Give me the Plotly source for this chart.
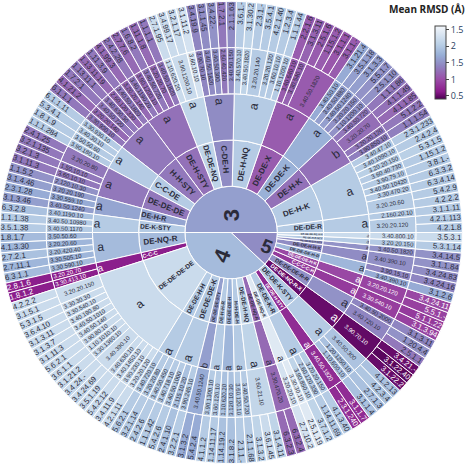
import plotly.graph_objects as go

# level 1 / level 2: metal-site class and residue motif, clockwise from 9 o'clock
motif_class = ["3"] * 14 + ["5"] * 9 + ["4"] * 15
motif_names = [
    "DE-K-STY", "DE-H-R", "DE-DE-DE", "C-C-DE", "H-H-STY", "DE-H-STY", "DE-DE-NQ",
    "C-DE-H", "DE-H-NQ", "DE-DE-X", "DE-DE-K", "DE-H-K", "DE-H-K ", "DE-DE-R",
    "DE-DE-DE-DE-H-H", "DE-DE-H-K-STY", "DE-DE-H-STY-STY", "DE-DE-H-H-K", "DE-DE-DE-H-R",
    "DE-DE-DE-H-K", "C-C-C-C-H", "DE-DE-DE-R-R", "DE-DE-NQ-R-X",
    "DE-DE-K-STY", "DE-DE-H-STY", "DE-DE-K-R", "DE-DE-NQ-K", "DE-DE-NQ-R", "DE-DE-H-NQ",
    "H-H-DE-H", "DE-DE-DE-H", "DE-H-H-R", "DE-DE-DE-STY", "DE-DE-DE-K", "DE-DE-H-H",
    "DE-DE-DE-DE", "C-C-C", "DE-NQ-R",
]
motif_letter = ["a"] * 11 + ["b", "a", "a"] + ["a"] * 9 + ["a"] * 9 + ["b"] + ["a"] * 5
motif_rmsd = [
    2.0, 1.65, 1.3, 2.0, 1.3, 1.25, 2.1, 1.45, 2.0, 1.1, 1.75, 1.25, 2.0, 2.0,
    2.2, 2.0, 1.5, 1.45, 1.8, 0.95, 0.85, 1.5, 0.5,
    2.0, 0.75, 2.0, 2.4, 1.2, 2.1, 2.0, 1.8, 2.0, 1.6, 2.0, 2.0, 2.2, 0.65, 1.85,
]

# level 4 / level 5: CATH topology and EC number of each leaf
leaf_motif = (
    ["DE-K-STY"] * 3 + ["DE-H-R"] * 3 + ["DE-DE-DE"] * 5 + ["C-C-DE"] * 4 + ["H-H-STY"] * 6
    + ["DE-H-STY"] * 6 + ["DE-DE-NQ"] * 4 + ["C-DE-H"] * 5 + ["DE-H-NQ"] * 7 + ["DE-DE-X"] * 6
    + ["DE-DE-K"] * 5 + ["DE-H-K"] * 5 + ["DE-H-K "] * 9 + ["DE-DE-R"] * 3
    + ["DE-DE-DE-DE-H-H"] + ["DE-DE-H-K-STY"] + ["DE-DE-H-STY-STY"] + ["DE-DE-H-H-K"] * 2
    + ["DE-DE-DE-H-R"] * 2 + ["DE-DE-DE-H-K"] * 2 + ["C-C-C-C-H"] * 2 + ["DE-DE-DE-R-R"] * 3
    + ["DE-DE-NQ-R-X"] * 3
    + ["DE-DE-K-STY"] * 4 + ["DE-DE-H-STY"] * 2 + ["DE-DE-K-R"] * 3 + ["DE-DE-NQ-K"] * 2
    + ["DE-DE-NQ-R"] * 2 + ["DE-DE-H-NQ"] * 3 + ["H-H-DE-H"] * 2 + ["DE-DE-DE-H"] * 2
    + ["DE-H-H-R"] * 2 + ["DE-DE-DE-STY"] * 2 + ["DE-DE-DE-K"] * 4 + ["DE-DE-H-H"] * 3
    + ["DE-DE-DE-DE"] * 16 + ["C-C-C"] * 2 + ["DE-NQ-R"] * 5
)
leaf_cath = [
    "3.40.50.1170", "3.40.50.10980", "3.40.1190.10",
    "3.40.50.1240", "3.30.559.10", "3.20.20.190",
    "2.120.10.30", "3.60.10.10", "1.50.10.10", "3.20.20.80", "3.20.20.80",
    "3.90.180.10", "3.50.50.60", "3.40.30.10", "3.30.930.10",
    "3.30.930.10", "3.20.20.140", "3.40.50.720", "3.40.630.30", "2.60.120.330", "3.40.50.1820",
    "3.20.20.140", "3.40.1190.20", "3.90.1200.10", "3.40.50.720", "3.20.20.70", "3.40.50.1820",
    "1.10.620.20", "3.90.1200.10", "3.90.1200.10", "3.60.10.10",
    "3.90.70.10", "3.40.50.1820", "3.40.50.300", "2.60.40.420", "3.40.50.150",
    "3.40.570.10", "3.40.50.1820", "3.20.20.140", "3.20.20.140", "3.20.20.120", "3.60.10.10", "1.10.1200.10",
    "3.40.640.10", "3.30.540.10", "3.40.50.1820", "3.40.50.1820", "3.40.50.1820", "3.40.50.1820",
    "3.40.50.10", "3.40.50.880", "3.40.50.1240", "3.20.20.150", "1.10.1200.10",
    "3.40.50.720", "3.20.20.70", "3.20.20.70", "3.20.20.120", "3.90.850.10",
    "3.40.47.10", "3.40.1090.10", "3.20.20.150", "3.60.40.730", "3.90.79.10", "3.40.50.10420",
    "3.30.470.20", "3.20.20.60", "3.20.20.60",
    "2.160.20.10", "3.20.20.120", "3.20.20.120",
    "3.40.800.10", "3.20.20.150", "3.40.50.1820", "3.40.390.10", "3.40.390.10",
    "3.90.15.10", "3.40.390.10", "3.20.20.120", "3.20.20.120", "3.30.540.10", "3.30.540.10",
    "3.40.50.2000", "3.40.720.10", "3.40.720.10", "3.90.70.10", "3.90.70.10", "3.90.70.10",
    "3.40.50.300", "3.40.50.300", "1.20.1250.10", "1.10.600.10", "3.40.50.1820", "3.40.50.1820",
    "3.20.20.150", "2.60.120.330", "3.90.850.10", "3.30.30.10", "3.20.20.10",
    "3.30.470.20", "3.30.470.20", "3.60.21.10", "3.60.21.10", "3.60.21.10",
    "3.40.50.720", "3.60.120.10", "3.120.10.30", "1.10.620.20",
    "3.60.120.10", "3.90.1300.10", "3.40.50.1240", "3.40.50.1240",
    "3.90.245.10", "2.115.10.20", "3.40.50.1000", "3.40.718.10",
    "3.40.50.450", "3.20.20.80", "3.40.720.10",
    "3.20.20.120", "3.90.230.10", "3.40.390.10", "3.40.1450.10", "3.40.630.10", "3.40.390.10",
    "3.30.1360.10", "3.20.20.150", "1.10.1010.10", "3.90.80.10", "3.40.50.140", "3.40.50.1010",
    "3.40.190.80", "3.30.540.10", "3.30.30.30", "3.20.20.150",
    "3.30.413.10", "3.20.20.70",
    "3.30.590.10", "3.30.505.10", "3.20.420.40", "3.20.20.60", "3.50.50.60",
]
leaf_ec = [
    "3.5.1.38", "1.1.1.38", "6.3.2.8",
    "3.1.3.46", "2.3.1.28", "3.1.4.46",
    "1.1.5.2", "3.1.11.3", "3.2.1.3", "3.2.1.135", "2.4.1.25",
    "1.1.1.284", "1.8.1.9", "5.3.4.1", "6.1.1.11",
    "6.1.1.1", "4.1.21.2", "1.7.2.1", "1.13.11.1", "1.13.11.19", "1.11.3.9",
    "4.1.99.3", "2.4.2.28", "2.7.7.6", "1.6.8.2", "1.11.1.8", "1.1.1.1",
    "2.7.1.95", "3.4.99.17", "3.2.1.17", "3.1.11.2",
    "3.4.19.9", "3.1.1.45", "3.4.22.-", "1.7.2.1", "2.1.1.63",
    "3.6.1.-", "3.1.30.2", "2.3.1.-", "3.5.4.1", "4.2.1.40", "1.2.3.4", "1.1.1.44",
    "2.2.1.6", "3.1.3.11", "2.5.1.6", "1.15.1.2", "3.1.1.1", "3.1.1.-",
    "3.1.21.4", "3.5.1.18", "3.1.3.3", "5.5.1.7", "2.5.1.10",
    "1.1.1.86", "4.1.1.49", "4.1.1.85", "5.1.2.2", "1.1.1.54",
    "2.3.1.233", "2.4.2.4", "5.3.1.5", "1.15.1.2", "3.8.1.-", "6.3.3.2",
    "6.3.4.14", "5.4.2.9", "4.2.2.2",
    "3.1.1.11", "4.2.1.113", "4.2.1.8",
    "3.5.3.1", "5.3.1.14", "3.4.14.5", "3.1.1.84", "3.4.24.83",
    "3.4.24.16", "3.1.2.6", "3.4.24.11", "5.5.1.-", "5.1.1.22", "3.1.3.94",
    "3.1.3.11", "1.20.4.4", "2.5.1.1", "3.4.21.-", "3.1.22.40", "3.1.22.2",
    "4.1.2.13", "4.2.3.4", "2.7.1.3", "3.1.1.4", "3.1.1.7", "2.3.1.240",
    "4.1.3.40", "1.14.11.69", "3.7.1.2", "2.5.1.19", "2.7.10.2",
    "6.3.2.4", "6.3.2.3", "3.1.4.11", "3.6.1.45", "3.1.3.2",
    "2.1.1.68", "2.1.1.-", "3.1.8.2", "1.14.19.2",
    "1.14.11.17", "4.1.1.2", "5.4.2.4", "3.1.3.2",
    "3.2.2.1", "2.4.1.10", "5.4.2.6", "1.1.1.42",
    "2.4.2.6", "3.2.1.14", "5.6.2.1",
    "4.2.1.11", "3.4.11.9", "3.4.24.69", "5.4.2.12", "3.5.1.19", "3.4.24.-",
    "3.1.21.2", "3.1.5.1", "3.6.1.1", "5.6.2.1", "3.1.11.3", "3.1.3.7",
    "3.1.3.11", "3.6.4.10", "5.3.1.5", "4.2.2.2",
    "1.8.1.2", "2.8.1.6",
    "6.3.1.1", "2.7.11.1", "2.7.2.1", "4.1.3.30", "1.8.1.7",
]
leaf_rmsd = [
    2.0, 2.0, 1.9,
    1.6, 1.7, 1.6,
    1.5, 1.3, 1.3, 1.3, 1.3,
    2.0, 2.0, 2.0, 2.0,
    1.3, 1.2, 1.3, 1.3, 1.2, 1.3,
    1.2, 1.3, 1.2, 1.3, 1.2, 1.3,
    2.2, 2.2, 2.2, 2.3,
    1.4, 1.45, 1.5, 1.3, 1.45,
    2.0, 2.1, 2.0, 2.0, 2.0, 2.0, 2.0,
    1.1, 1.15, 1.1, 1.1, 1.05, 1.1,
    1.7, 1.6, 1.6, 1.5, 1.5,
    1.3, 1.25, 1.2, 1.3, 1.35,
    2.0, 2.0, 2.05, 2.0, 2.0, 2.0,
    2.0, 2.0, 2.0,
    2.0, 2.0, 2.0,
    2.2, 2.0, 1.5, 1.5, 1.45,
    1.4, 1.7, 0.95, 0.9, 0.85, 0.9,
    1.4, 1.5, 1.3, 0.5, 0.45, 0.5,
    1.9, 1.95, 1.9, 1.9, 0.75, 0.75,
    2.0, 2.0, 2.1, 2.4, 2.3,
    1.2, 1.2, 2.1, 2.2, 2.1,
    2.0, 2.0, 1.9, 1.9,
    2.0, 2.0, 1.7, 1.7,
    2.0, 1.9, 2.0, 2.0,
    2.0, 2.0, 2.0,
    2.2, 2.2, 2.2, 2.2, 2.2, 2.2,
    2.2, 2.2, 2.2, 2.2, 2.2, 2.2,
    2.2, 2.2, 2.2, 2.2,
    0.65, 0.65,
    1.85, 1.8, 1.9, 1.8, 1.85,
]
class_rmsd = {"3": 1.6, "4": 1.85, "5": 1.45}

colorscale = [
    [0.0, "#4a0050"], [0.1, "#8a1a8a"], [0.27, "#9b4ea8"], [0.45, "#8f84c0"],
    [0.6, "#97aed6"], [0.75, "#bad0e6"], [1.0, "#f4f7fb"],
]

ids, labels, parents, colors, sizes, weights = [], [], [], [], [], []


def add(node_id, label, parent, c, level):
    if node_id in ids:
        return
    ids.append(node_id)
    labels.append(label)
    parents.append(parent)
    colors.append(c)
    sizes.append([22, 8, 12, 6, 8][level])
    weights.append("bold" if level < 2 else "normal")


motif_info = {m: (cl, lt, r) for m, cl, lt, r in zip(motif_names, motif_class, motif_letter, motif_rmsd)}

# sunburst runs counterclockwise, so feed everything in reverse order
for cl in ["4", "5", "3"]:
    add(cl, cl, "", class_rmsd[cl], 0)
for m in motif_names[::-1]:
    cl, lt, r = motif_info[m]
    add(cl + "/" + m, m.strip(), cl, r, 1)
    add(cl + "/" + m + "/" + lt, lt, cl + "/" + m, r, 2)

# cath colour = mean of its leaves
cath_vals = {}
for m, c, r in zip(leaf_motif, leaf_cath, leaf_rmsd):
    cl, lt, _ = motif_info[m]
    cath_vals.setdefault("/".join([cl, m, lt, c]), []).append(r)
rows = list(zip(leaf_motif, leaf_cath, leaf_ec, leaf_rmsd))[::-1]
for m, c, e, r in rows:
    cl, lt, _ = motif_info[m]
    pid = "/".join([cl, m, lt])
    cid = pid + "/" + c
    add(cid, c, pid, sum(cath_vals[cid]) / len(cath_vals[cid]), 3)
    add(cid + "/" + e, e, cid, r, 4)

text_colors = ["white" if v < 1.0 else "#2b2b3a" for v in colors]

fig = go.Figure(go.Sunburst(
    ids=ids, labels=labels, parents=parents,
    sort=False, rotation=180,
    domain=dict(x=[0.0, 0.99], y=[0.0, 1.0]),
    insidetextorientation="radial",
    textfont=dict(family="Arial, Liberation Sans", size=sizes, color=text_colors, weight=weights),
    marker=dict(
        colors=colors, colorscale=colorscale, cmin=0.4, cmax=2.6,
        line=dict(color="white", width=1),
        showscale=True,
        colorbar=dict(
            x=0.91, xanchor="left", y=0.965, yanchor="top", len=0.2, thickness=11,
            tickvals=[0.5, 1, 1.5, 2, 2.5], ticktext=["0.5", "1", "1.5", "2", "1.5"],
            ticks="outside", ticklen=3, tickfont=dict(size=9), outlinewidth=1,
        ),
    ),
    hoverinfo="label",
))
fig.add_annotation(text="<b>Mean RMSD (Å)</b>", x=1, y=1, xref="paper", yref="paper",
                   xanchor="right", yanchor="top", showarrow=False,
                   font=dict(size=10, color="#222"))
fig.update_layout(width=474, height=465, margin=dict(l=0, r=0, t=0, b=0),
                  paper_bgcolor="white")
fig.write_html("out.html", config={"displayModeBar": False},
               post_script="document.body.style.margin='0';")
